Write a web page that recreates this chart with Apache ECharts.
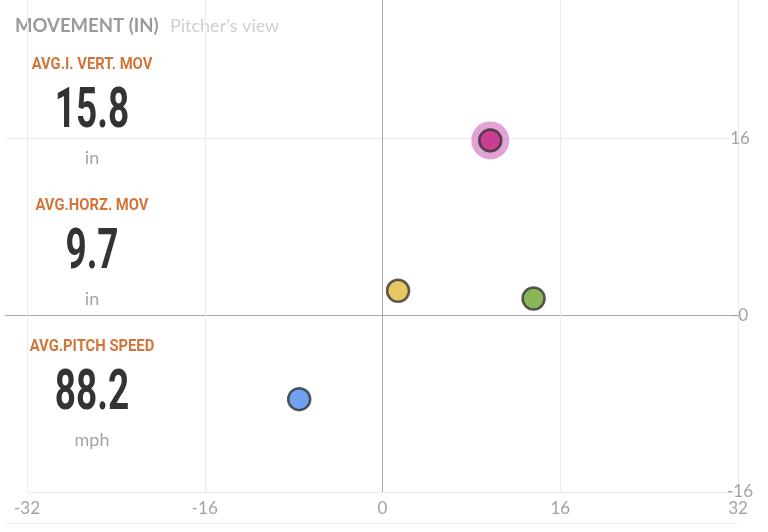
<!DOCTYPE html>
<html>
<head>
<meta charset="utf-8">
<script src="https://cdn.jsdelivr.net/npm/echarts@6/dist/echarts.min.js"></script>
<style>
  html, body { margin: 0; padding: 0; background: #fff; }
  #movement { width: 768px; height: 532px; }
</style>
</head>
<body>
<div id="movement"></div>
<script>
  // pitch points (horizontal break, induced vertical break), inches
  const pitchX = [9.7, 1.4, 13.6, -7.5]
  const pitchY = [15.8, 2.2, 1.5, -7.6]
  const pitchColors = ['#c2267f', '#e1b93b', '#6ea22f', '#4f8bea']

  // summary panel on the left
  const statNames = ['AVG.I. VERT. MOV', 'AVG.HORZ. MOV', 'AVG.PITCH SPEED']
  const statValues = ['15.8', '9.7', '88.2']
  const statUnits = ['in', 'in', 'mph']

  const yTicks = [-16, 0, 16]
  const yTickLabels = ['-16', '-0', '16']

  let myChart = echarts.init(document.getElementById('movement'))

  const gray = '#a3a3a3'

  let panel = []
  statNames.forEach(function (name, i) {
    const mid = 65 + i * 141
    panel.push({
      type: 'text', x: 92, y: mid, scaleX: 0.87,
      style: { text: name, align: 'center', verticalAlign: 'middle', fill: '#d0763a', font: 'bold 17px Roboto' }
    })
    panel.push({
      type: 'text', x: 92, y: mid + 48, scaleX: 0.66,
      style: { text: statValues[i], align: 'center', verticalAlign: 'middle', fill: '#333', font: 'bold 56px Roboto' }
    })
    panel.push({
      type: 'text', x: 92, y: mid + 93,
      style: { text: statUnits[i], align: 'center', verticalAlign: 'middle', fill: gray, font: '18px Lato' }
    })
  })

  const option = {
    animation: false,
    grid: {
      left: 27,
      right: 30,
      top: 0,
      bottom: 40
    },
    xAxis: {
      type: 'value',
      min: -32,
      max: 32,
      interval: 16,
      axisLine: { show: false },
      axisTick: { show: false },
      axisLabel: {
        color: gray,
        fontFamily: 'Lato',
        fontSize: 17,
        margin: 8
      },
      splitLine: {
        lineStyle: {
          color: ['#ececec', '#ececec', '#a8a8a8', '#ececec', '#ececec']
        }
      }
    },
    yAxis: {
      type: 'value',
      position: 'right',
      min: -16,
      max: 28.5,
      interval: 16,
      axisLine: { show: false },
      axisTick: { show: false },
      axisLabel: {
        color: gray,
        fontFamily: 'Lato',
        fontSize: 17,
        margin: 2,
        align: 'center',
        showMaxLabel: false,
        formatter: function (v) {
          const k = yTicks.indexOf(v)
          return k < 0 ? '' : yTickLabels[k]
        }
      },
      splitLine: {
        lineStyle: {
          color: ['#ececec', '#a8a8a8', '#ececec', 'rgba(0,0,0,0)']
        }
      }
    },
    graphic: [
      {
        type: 'line', silent: true,
        shape: { x1: 5, y1: 523.5, x2: 738, y2: 523.5 },
        style: { stroke: '#f0f0f0', lineWidth: 1 }
      },
      {
        type: 'line', silent: true,
        shape: { x1: 5, y1: 315.5, x2: 27, y2: 315.5 },
        style: { stroke: '#a8a8a8', lineWidth: 1 }
      },
      {
        type: 'line', silent: true,
        shape: { x1: 5, y1: 138.5, x2: 27, y2: 138.5 },
        style: { stroke: '#ececec', lineWidth: 1 }
      },
      {
        type: 'text', x: 15, y: 26, scaleX: 1.03,
        style: { text: 'MOVEMENT (IN)', verticalAlign: 'middle', fill: '#9a9a9a', font: 'bold 18px Lato' }
      },
      {
        type: 'text', x: 170, y: 26,
        style: { text: "Pitcher's view", verticalAlign: 'middle', fill: '#cfcfcf', font: '18px Lato' }
      }
    ].concat(panel),
    series: [
      {
        type: 'scatter',
        z: 2,
        silent: true,
        symbolSize: 38,
        itemStyle: { color: '#dc8bcb' },
        data: [[pitchX[0], pitchY[0]]]
      },
      {
        type: 'scatter',
        z: 3,
        symbolSize: 22,
        itemStyle: {
          borderColor: '#333',
          borderWidth: 2.5,
          color: function (p) {
            return pitchColors[p.dataIndex]
          }
        },
        data: pitchX.map(function (x, i) {
          return [x, pitchY[i]]
        })
      }
    ]
  }
  myChart.setOption(option)
</script>
</body>
</html>
